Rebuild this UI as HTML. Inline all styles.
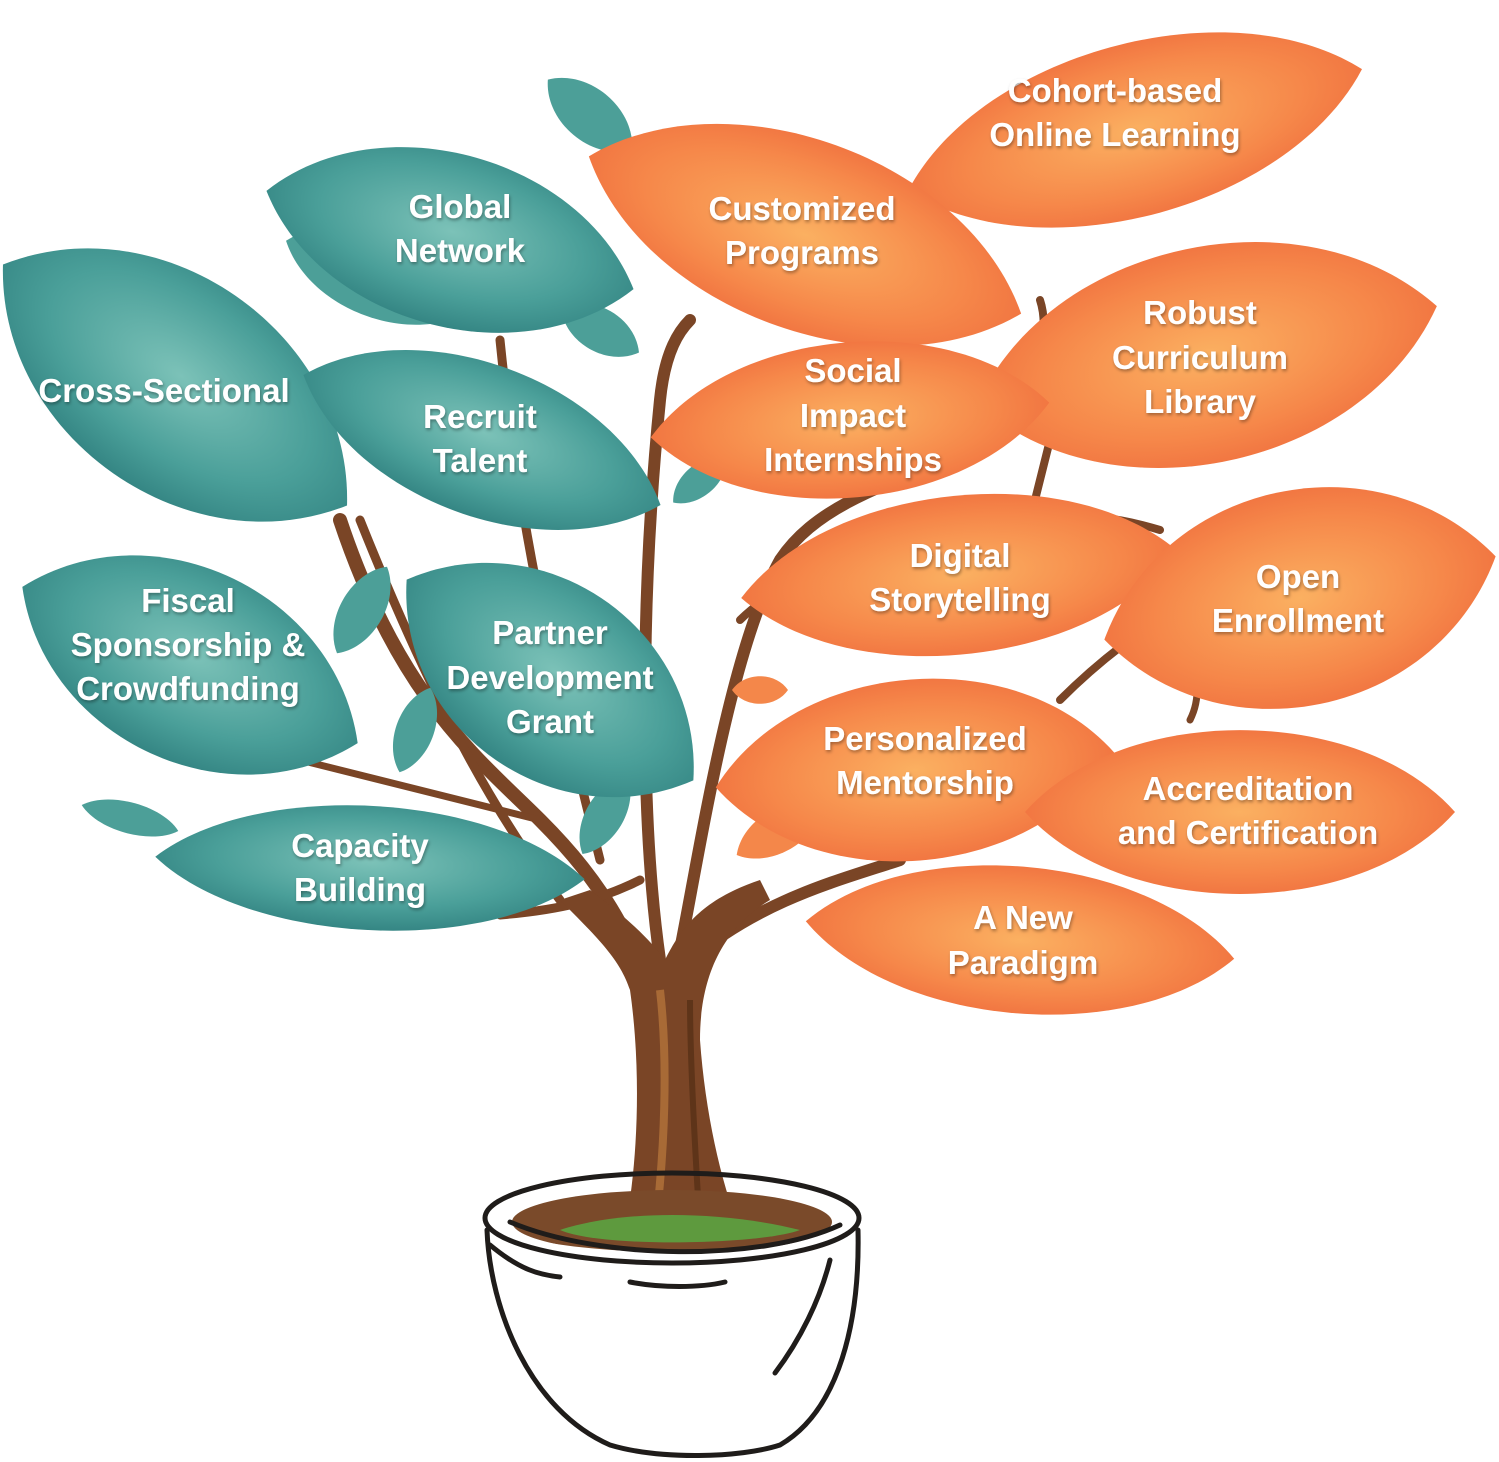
<!DOCTYPE html>
<html><head><meta charset="utf-8"><style>
html,body{margin:0;padding:0;background:#fff}
svg{display:block}
text{font-family:"Liberation Sans",sans-serif;font-weight:bold;fill:#fff;font-size:33px;text-anchor:middle}
</style></head><body>
<svg width="1499" height="1462" viewBox="0 0 1499 1462" xmlns="http://www.w3.org/2000/svg">
<defs>
<radialGradient id="tg" cx="0.5" cy="0.45" r="0.6"><stop offset="0" stop-color="#7cc2b8"/><stop offset="0.6" stop-color="#4a9f99"/><stop offset="1" stop-color="#2f7f7e"/></radialGradient>
<radialGradient id="og" cx="0.5" cy="0.5" r="0.6"><stop offset="0" stop-color="#fbb061"/><stop offset="0.6" stop-color="#f6884a"/><stop offset="1" stop-color="#ee6a3c"/></radialGradient>
<path id="lf" d="M-1,0 C-0.55,-1.15 0.55,-1.15 1,0 C0.55,1.15 -0.55,1.15 -1,0Z"/>
<filter id="ts"><feDropShadow dx="1" dy="2" stdDeviation="1.5" flood-color="#000" flood-opacity="0.35"/></filter>
</defs>

<!-- branches -->
<g fill="none" stroke="#7a4526" stroke-linecap="round">
<path d="M670 1080 C650 950 600 880 540 820 C480 760 400 700 340 520" stroke-width="14"/>
<path d="M660 960 C640 820 640 600 660 400 C665 350 680 330 690 320" stroke-width="12"/>
<path d="M680 950 C700 850 730 650 780 560 C820 500 900 480 1000 440" stroke-width="12"/>
<path d="M690 960 C760 900 840 880 900 860" stroke-width="12"/>
<path d="M560 900 C500 820 440 720 360 520" stroke-width="9"/>
<path d="M600 860 C560 700 520 540 500 340" stroke-width="9"/>
<path d="M740 620 C800 560 1000 480 1160 530" stroke-width="8"/>
<path d="M1000 440 C1040 380 1050 330 1040 300" stroke-width="8"/>
<path d="M1060 700 C1100 660 1140 630 1190 600" stroke-width="8"/>
<path d="M1050 440 C1030 520 1020 560 1010 600" stroke-width="8"/>
<path d="M540 820 C460 800 380 780 300 760" stroke-width="7"/>
<path d="M640 880 C600 900 560 910 500 915" stroke-width="9"/>
<path d="M1190 600 C1200 680 1200 700 1190 720" stroke-width="7"/>
</g>

<!-- small teal leaves -->
<g fill="#4c9f98">
<use href="#lf" transform="translate(590,115) rotate(40) scale(55,30)"/>
<use href="#lf" transform="translate(130,818) rotate(15) scale(50,18)"/>
<use href="#lf" transform="translate(362,610) rotate(-60) scale(50,25)"/>
<use href="#lf" transform="translate(415,730) rotate(-70) scale(45,22)"/>
<use href="#lf" transform="translate(600,330) rotate(30) scale(45,25)"/>
<use href="#lf" transform="translate(605,815) rotate(-60) scale(45,22)"/>
<use href="#lf" transform="translate(700,480) rotate(-40) scale(35,18)"/>
<use href="#lf" transform="translate(380,275) rotate(20) scale(100,50)"/>
</g>
<g fill="#f4874a">
<use href="#lf" transform="translate(760,690) rotate(0) scale(28,16)"/>
<use href="#lf" transform="translate(780,830) rotate(-30) scale(50,25)"/>
</g>

<!-- teal leaves -->
<g fill="url(#tg)">
<use href="#lf" transform="translate(175,385) rotate(35) scale(210,125)"/>
<use href="#lf" transform="translate(450,240) rotate(15) scale(190,100)"/>
<use href="#lf" transform="translate(482,440) rotate(20) scale(190,88)"/>
<use href="#lf" transform="translate(190,665) rotate(25) scale(185,112)"/>
<use href="#lf" transform="translate(550,680) rotate(35) scale(175,112)"/>
<use href="#lf" transform="translate(370,868) rotate(3) scale(215,72)"/>
</g>
<!-- orange leaves -->
<g fill="url(#og)">
<use href="#lf" transform="translate(1135,130) rotate(-15) scale(235,100)"/>
<use href="#lf" transform="translate(805,235) rotate(20) scale(230,110)"/>
<use href="#lf" transform="translate(1207,355) rotate(-12) scale(235,125)"/>
<use href="#lf" transform="translate(850,420) rotate(-5) scale(200,90)"/>
<use href="#lf" transform="translate(960,575) rotate(-6) scale(220,92)"/>
<use href="#lf" transform="translate(1300,598) rotate(-12) scale(200,125)"/>
<use href="#lf" transform="translate(915,770) rotate(-5) scale(200,105)"/>
<use href="#lf" transform="translate(1240,812) rotate(0) scale(215,95)"/>
<use href="#lf" transform="translate(1020,940) rotate(5) scale(215,85)"/>
</g>

<!-- trunk -->
<path d="M625 1230 C640 1150 640 1060 630 990 C620 960 600 940 560 900 L590 890 C630 920 650 940 665 960 C680 930 700 900 760 880 L770 900 C720 930 700 980 700 1040 C705 1110 720 1180 740 1230 Z" fill="#7a4526"/>
<path d="M655 1230 C665 1150 668 1060 660 990" stroke="#a86a36" stroke-width="8" fill="none"/>
<path d="M700 1230 C695 1150 690 1060 690 1000" stroke="#5e3419" stroke-width="6" fill="none"/>

<!-- pot -->
<ellipse cx="672" cy="1222" rx="160" ry="32" fill="#7a4a2a"/>
<path d="M560 1230 C620 1210 720 1210 800 1230 C760 1245 600 1248 560 1230Z" fill="#5e9a3e"/>
<path d="M485 1225 C490 1300 520 1400 610 1445 C650 1455 730 1455 770 1445 C840 1400 860 1300 860 1225 C800 1260 560 1262 485 1225Z" fill="#fff"/>
<g fill="none" stroke="#1f1c1a" stroke-width="5" stroke-linecap="round">
<ellipse cx="672" cy="1218" rx="187" ry="45"/>
<path d="M510 1222 C600 1260 760 1262 840 1225"/>
<path d="M487 1230 C490 1310 530 1410 610 1445 C660 1460 740 1458 780 1445 C840 1410 860 1320 858 1230"/>
<path d="M630 1282 C660 1288 700 1288 725 1282"/>
<path d="M490 1245 C520 1270 540 1275 560 1277"/>
<path d="M775 1373 C800 1340 820 1300 830 1260"/>
</g>

<!-- labels -->
<g filter="url(#ts)">
<text x="1115" y="102">Cohort-based</text>
<text x="1115" y="146">Online Learning</text>
<text x="802" y="220">Customized</text>
<text x="802" y="264">Programs</text>
<text x="460" y="218">Global</text>
<text x="460" y="262">Network</text>
<text x="1200" y="324">Robust</text>
<text x="1200" y="369">Curriculum</text>
<text x="1200" y="413">Library</text>
<text x="164" y="402">Cross-Sectional</text>
<text x="853" y="382">Social</text>
<text x="853" y="427">Impact</text>
<text x="853" y="471">Internships</text>
<text x="480" y="428">Recruit</text>
<text x="480" y="472">Talent</text>
<text x="960" y="567">Digital</text>
<text x="960" y="611">Storytelling</text>
<text x="1298" y="588">Open</text>
<text x="1298" y="632">Enrollment</text>
<text x="188" y="612">Fiscal</text>
<text x="188" y="656">Sponsorship &amp;</text>
<text x="188" y="700">Crowdfunding</text>
<text x="550" y="644">Partner</text>
<text x="550" y="689">Development</text>
<text x="550" y="733">Grant</text>
<text x="925" y="750">Personalized</text>
<text x="925" y="794">Mentorship</text>
<text x="1248" y="800">Accreditation</text>
<text x="1248" y="844">and Certification</text>
<text x="360" y="857">Capacity</text>
<text x="360" y="901">Building</text>
<text x="1023" y="929">A New</text>
<text x="1023" y="974">Paradigm</text>
</g>
</svg>
</body></html>
